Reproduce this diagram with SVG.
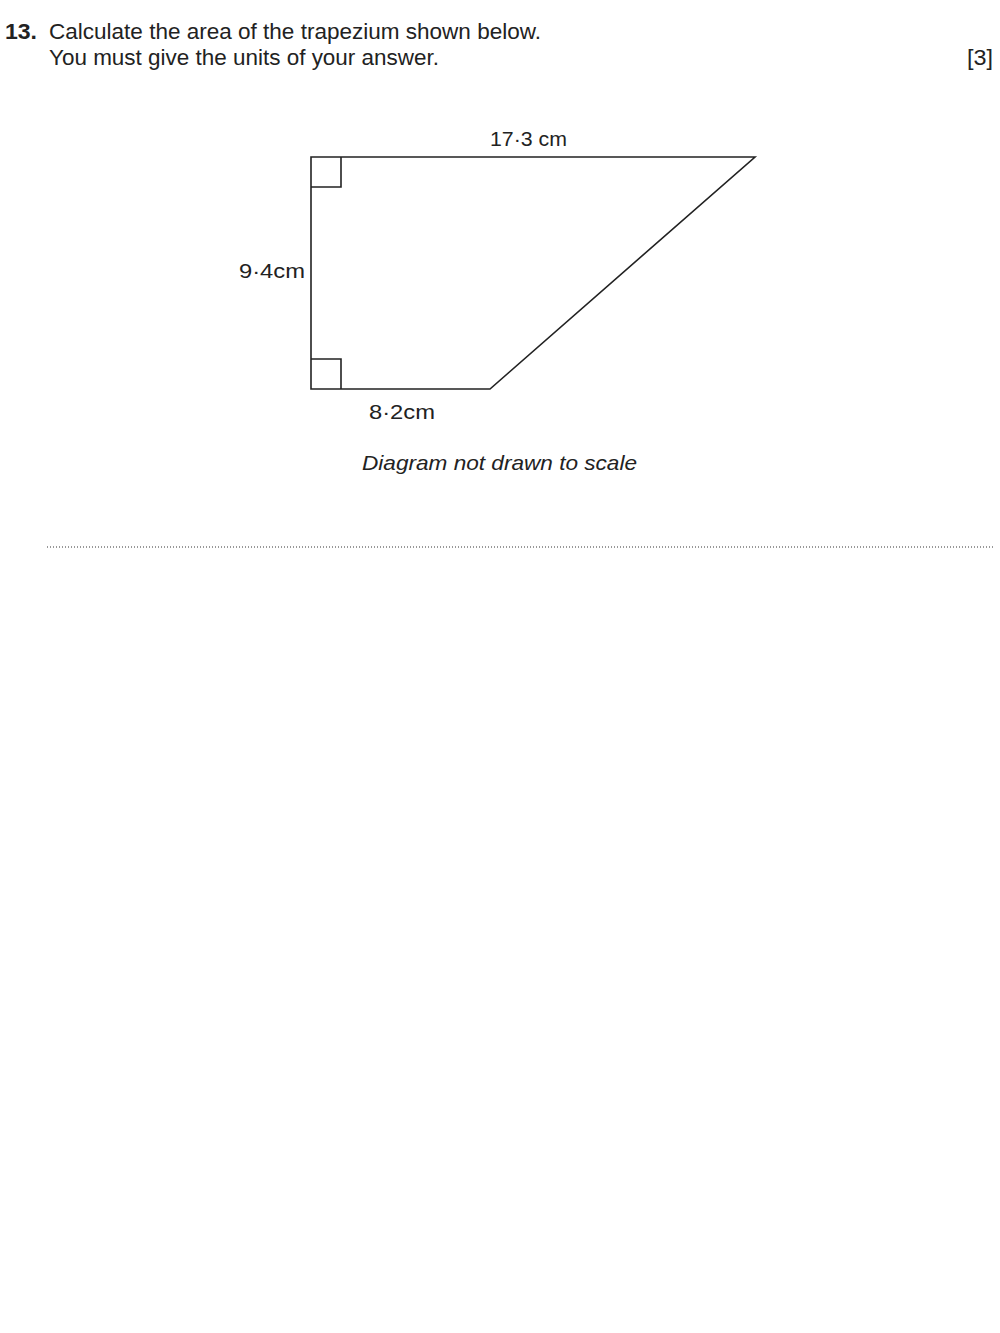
<svg xmlns="http://www.w3.org/2000/svg" width="1000" height="1333" viewBox="0 0 1000 1333">
<style>
text{font-family:"Liberation Sans",Arial,sans-serif;fill:#222;}
.q{font-size:22.5px;}
.l{font-size:21px;}
.shape{fill:none;stroke:#222;stroke-width:1.6;}
</style>
<rect width="1000" height="1333" fill="#fff"/>
<g id="question">
<text class="q" x="5" y="39" font-weight="bold" textLength="32" lengthAdjust="spacingAndGlyphs">13.</text>
<text class="q" x="49" y="39" textLength="492" lengthAdjust="spacingAndGlyphs">Calculate the area of the trapezium shown below.</text>
<text class="q" x="49" y="65" textLength="390" lengthAdjust="spacingAndGlyphs">You must give the units of your answer.</text>
<text class="q" x="993" y="65" text-anchor="end" textLength="26" lengthAdjust="spacingAndGlyphs">[3]</text>
</g>
<g id="trapezium">
<polygon class="shape" points="311,157 755,157 490,389 311,389"/>
<polyline class="shape" points="311,187 341,187 341,157"/>
<polyline class="shape" points="311,359 341,359 341,389"/>
</g>
<g id="labels">
<text class="l" x="490" y="146" textLength="77" lengthAdjust="spacingAndGlyphs">17·3 cm</text>
<text class="l" x="239" y="278" textLength="66" lengthAdjust="spacingAndGlyphs">9·4cm</text>
<text class="l" x="369" y="419" textLength="66" lengthAdjust="spacingAndGlyphs">8·2cm</text>
<text class="l" x="362" y="470" font-style="italic" textLength="275" lengthAdjust="spacingAndGlyphs">Diagram not drawn to scale</text>
</g>
<line x1="47" y1="547" x2="993" y2="547" stroke="#333" stroke-width="1" stroke-dasharray="1,2"/>
</svg>
